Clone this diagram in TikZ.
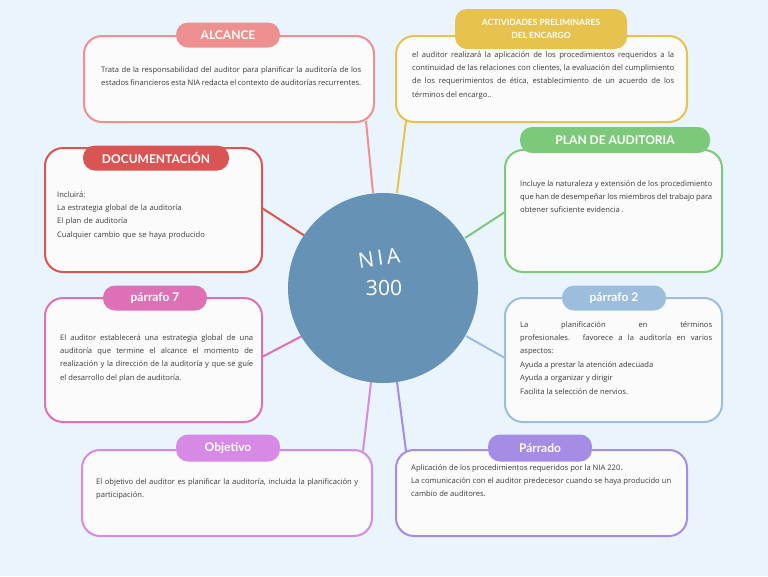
\documentclass[tikz,border=0pt]{standalone}
\usepackage{fontspec}
\setmainfont{Open Sans}
\newfontfamily\pillfont{Lato}
\hyphenpenalty=10000
\exhyphenpenalty=10000
\definecolor{bg}{HTML}{EAF4FC}
\definecolor{cA}{HTML}{EF9090}
\definecolor{cB}{HTML}{E6C24E}
\definecolor{cC}{HTML}{DA5454}
\definecolor{cD}{HTML}{7DC97A}
\definecolor{cE}{HTML}{DE70B6}
\definecolor{cF}{HTML}{9CBEDC}
\definecolor{cG}{HTML}{D68AE6}
\definecolor{cH}{HTML}{A58CE4}
\definecolor{hub}{HTML}{6692B5}
\definecolor{txt}{HTML}{3A3A3A}
\begin{document}
\begin{tikzpicture}[x=1pt,y=-1pt,
 box/.style={draw=#1,line width=2pt,fill=white!97!gray,rounded corners=18pt},
 pill/.style={fill=#1,rounded corners=12pt,text=white,font=\pillfont\bfseries\fontsize{12}{13}\selectfont,align=center,inner sep=0pt},
 body/.style={text=txt,font=\fontsize{7.6}{13.4}\selectfont,align=justify,anchor=north west,inner sep=0pt},
 link/.style={draw=#1,line width=2pt}]
\fill[bg] (0,0) rectangle (768,576);
\useasboundingbox (0,0) rectangle (768,576);
% connectors
\coordinate (c1a) at (373,193); \coordinate (c1b) at (366,121);
\coordinate (c2a) at (397,193); \coordinate (c2b) at (406,121);
\coordinate (c3a) at (305,236); \coordinate (c3b) at (262,208);
\coordinate (c4a) at (465,238); \coordinate (c4b) at (505,212);
\coordinate (c5a) at (302,336); \coordinate (c5b) at (262,357);
\coordinate (c6a) at (466,336); \coordinate (c6b) at (505,358);
\coordinate (c7a) at (371,382); \coordinate (c7b) at (363,451);
\coordinate (c8a) at (397,382); \coordinate (c8b) at (406,451);
\draw[link=cA] (c1a)--(c1b); \draw[link=cB] (c2a)--(c2b);
\draw[link=cC] (c3a)--(c3b); \draw[link=cD] (c4a)--(c4b);
\draw[link=cE] (c5a)--(c5b); \draw[link=cF] (c6a)--(c6b);
\draw[link=cG] (c7a)--(c7b); \draw[link=cH] (c8a)--(c8b);
\node[circle,fill=hub,minimum size=190pt] (hub) at (383,288) {};
\node[text=white,font=\fontsize{21}{24}\selectfont,rotate=8] (h1) at (379,258) {N\,I\,A};
\node[text=white,font=\fontsize{21}{24}\selectfont] (h2) at (384,288) {300};
% boxes
\draw[box=cA] (84,36) rectangle (374,122);
\node[pill=cA,minimum width=104pt,minimum height=25pt] (pA) at (228,35) {ALCANCE};
\node[body,text width=260pt] (tA) at (101,66) {Trata de la responsabilidad del auditor para planificar la auditoría de los estados financieros esta NIA redacta el contexto de auditorías recurrentes.};

\draw[box=cB] (396,36) rectangle (687,122);
\node[pill=cB,minimum width=172pt,minimum height=40pt,font=\pillfont\bfseries\fontsize{8.5}{13}\selectfont] (pB) at (541,29) {ACTIVIDADES PRELIMINARES\\DEL ENCARGO};
\node[body,text width=262pt] (tB) at (412,51) {el auditor realizará la aplicación de los procedimientos requeridos a la continuidad de las relaciones con clientes, la evaluación del cumplimiento de los requerimientos de ética, establecimiento de un acuerdo de los términos del encargo..};

\draw[box=cC] (45,148) rectangle (262,272);
\node[pill=cC,minimum width=146pt,minimum height=25pt] (pC) at (156,158) {DOCUMENTACIÓN};
\node[body,text width=200pt,align=left] (tC) at (57,191) {Incluirá:\\La estrategia global de la auditoría\\El plan de auditoría\\Cualquier cambio que se haya producido};

\draw[box=cD] (505,150) rectangle (722,272);
\node[pill=cD,minimum width=190pt,minimum height=26pt] (pD) at (615,140) {PLAN DE AUDITORIA};
\node[body,text width=192pt] (tD) at (520,180) {Incluye la naturaleza y extensión de los procedimiento que han de desempeñar los miembros del trabajo para obtener suficiente evidencia .};

\draw[box=cE] (45,298) rectangle (262,422);
\node[pill=cE,minimum width=104pt,minimum height=25pt] (pE) at (155,298) {párrafo 7};
\node[body,text width=193pt] (tE) at (60,334) {El auditor establecerá una estrategia global de una auditoría que termine el alcance el momento de realización y la dirección de la auditoría y que se guíe el desarrollo del plan de auditoría.};

\draw[box=cF] (505,298) rectangle (722,422);
\node[pill=cF,minimum width=104pt,minimum height=25pt] (pF) at (614,298) {párrafo 2};
\node[body,text width=192pt] (tF) at (520,321) {La\hfill planificación\hfill en\hfill términos\\ profesionales. favorece a la auditoría en varios aspectos:\\ \mbox{Ayuda a prestar la atención adecuada}\\ Ayuda a organizar y dirigir\\ Facilita la selección de nervios.};

\draw[box=cG] (82,450) rectangle (372,536);
\node[pill=cG,minimum width=104pt,minimum height=27pt] (pG) at (228,448) {Objetivo};
\node[body,text width=262pt,align=left] (tG) at (96,478) {El objetivo del auditor es planificar la auditoría, incluida la planificación y participación.};

\draw[box=cH] (396,450) rectangle (687,536);
\node[pill=cH,minimum width=104pt,minimum height=27pt] (pH) at (540,448) {Párrado};
\node[body,text width=260pt] (tH) at (411,464) {Aplicación de los procedimientos requeridos por la NIA 220.\\La comunicación con el auditor predecesor cuando se haya producido un cambio de auditores.};
\end{tikzpicture}
\end{document}
